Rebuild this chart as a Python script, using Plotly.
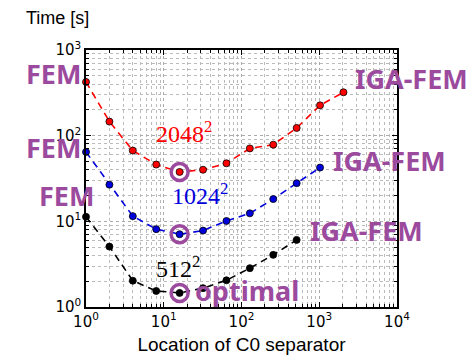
import plotly.graph_objects as go

# ---- data ----
x_sep = [1, 2, 4, 8, 16, 32, 64, 128, 256, 512, 1024, 2048]
t_2048 = [424, 146, 67, 46, 37.7, 40, 47.6, 71, 78.5, 123, 226, 321]
t_1024 = [64.5, 26.8, 11.5, 8.1, 7.07, 7.8, 10.1, 12.4, 18.2, 27.9, 42.4]
t_512 = [11.3, 5.07, 2.03, 1.54, 1.46, 1.66, 2.05, 2.84, 4.06, 6.07]
opt_x = [16, 16, 16]
opt_y = [37.7, 7.07, 1.46]

x_tickvals = [1, 10, 100, 1000, 10000]
x_ticktext = ["10<sup>0</sup>", "10<sup>1</sup>", "10<sup>2</sup>", "10<sup>3</sup>", "10<sup>4</sup>"]
y_tickvals = [1, 10, 100, 1000]
y_ticktext = ["10<sup>0</sup>", "10<sup>1</sup>", "10<sup>2</sup>", "10<sup>3</sup>"]

PURPLE = "#9B4A9E"

fig = go.Figure()

def series(xs, ys, color):
    fig.add_trace(go.Scatter(
        x=xs, y=ys, mode="lines+markers",
        line=dict(color=color, width=1.6, dash="7px,5px"),
        marker=dict(color=color, size=7, line=dict(color="black", width=0.8)),
        showlegend=False, cliponaxis=False))

series(x_sep, t_2048, "#FF0000")
series(x_sep[:len(t_1024)], t_1024, "#0000DD")
series(x_sep[:len(t_512)], t_512, "#000000")

fig.add_trace(go.Scatter(
    x=opt_x, y=opt_y, mode="markers",
    marker=dict(symbol="circle-open", size=17, color=PURPLE, line=dict(width=3.5, color=PURPLE)),
    showlegend=False))

axis_common = dict(
    type="log", showline=True, linecolor="black", linewidth=1.5, mirror="allticks",
    ticks="inside", ticklen=5, tickcolor="black",
    showgrid=True, gridcolor="#aaaaaa", griddash="dot", gridwidth=1,
    zeroline=False,
    tickfont=dict(family="DejaVu Sans, Liberation Sans", size=15, color="black"),
    minor=dict(ticks="inside", ticklen=3, tickcolor="black", showgrid=True,
               gridcolor="#bbbbbb", griddash="dot", gridwidth=1, dtick="D1"),
)

fig.update_xaxes(range=[0, 4], tickvals=x_tickvals, ticktext=x_ticktext,
                 title=dict(text="Location of C0 separator", standoff=8,
                            font=dict(family="Liberation Sans, Arial", size=19, color="black")),
                 **axis_common)
fig.update_yaxes(range=[0, 3], tickvals=y_tickvals, ticktext=y_ticktext, **axis_common)

def ann(text, x, y, size, color, family, bold=False, xanchor="center"):
    fig.add_annotation(
        text=f"<b>{text}</b>" if bold else text, x=x, y=y, xref="paper", yref="paper",
        xanchor=xanchor, yanchor="middle", showarrow=False,
        font=dict(family=family, size=size, color=color))

ann("Time [s]", -0.200, 1.125, 18, "black", "Liberation Sans, Arial", xanchor="left")

sans = "Noto Sans, Open Sans, sans-serif"
ann("FEM", -0.103, 0.910, 27, PURPLE, sans, bold=True)
ann("FEM", -0.106, 0.619, 27, PURPLE, sans, bold=True)
ann("FEM", -0.064, 0.432, 27, PURPLE, sans, bold=True)
ann("IGA-FEM", 1.048, 0.890, 27, PURPLE, sans, bold=True)
ann("IGA-FEM", 0.977, 0.569, 27, PURPLE, sans, bold=True)
ann("IGA-FEM", 0.902, 0.298, 27, PURPLE, sans, bold=True)
ann("optimal", 0.518, 0.063, 27, PURPLE, sans, bold=True)

serif = "Liberation Serif, Times New Roman, serif"
ann("2048<sup>2</sup>", 0.315, 0.681, 24, "#FF0000", serif)
ann("1024<sup>2</sup>", 0.365, 0.439, 24, "#0000DD", serif)
ann("512<sup>2</sup>", 0.296, 0.157, 24, "#000000", serif)

fig.update_layout(
    width=474, height=357,
    margin=dict(l=78, r=85, t=42, b=58),
    paper_bgcolor="white", plot_bgcolor="white",
)

fig.write_html("out.html")
